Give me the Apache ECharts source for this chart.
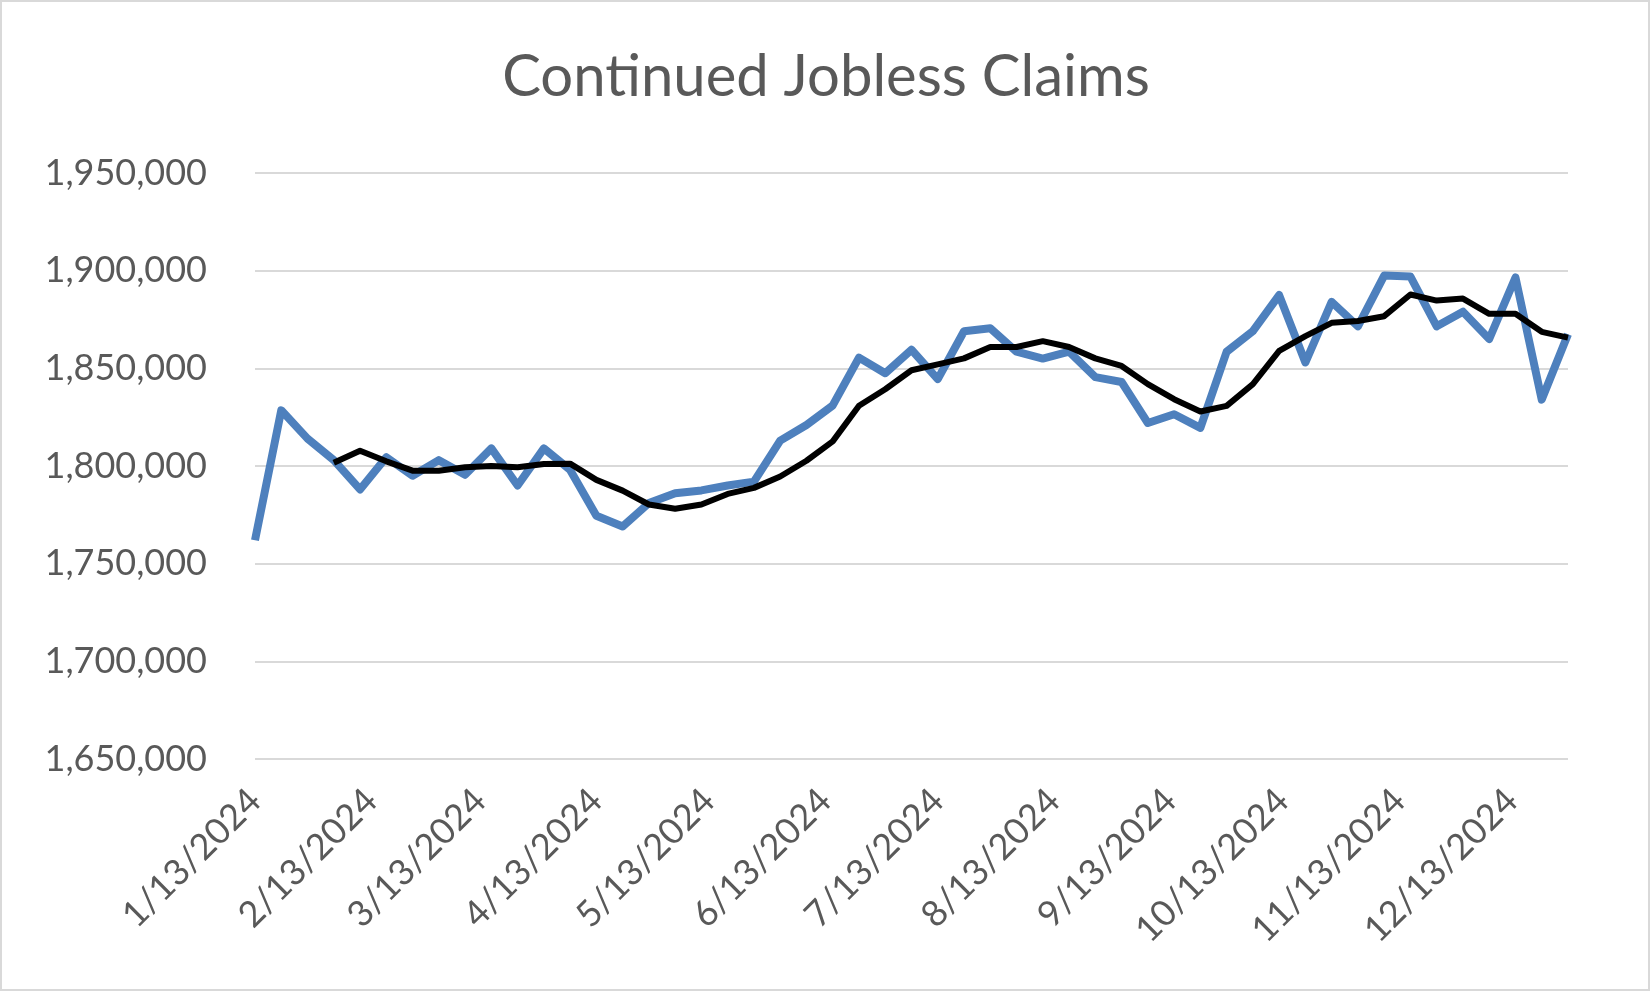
<!DOCTYPE html>
<html>
<head>
<meta charset="utf-8">
<script src="https://cdn.jsdelivr.net/npm/echarts@6/dist/echarts.min.js"></script>
<style>
html,body{margin:0;padding:0;background:#fff;}
#chart{width:1652px;height:993px;}
</style>
</head>
<body>
<div id="chart"></div>
<script>
const weekDates = ["1/13/2024","1/20/2024","1/27/2024","2/3/2024","2/10/2024","2/17/2024","2/24/2024","3/2/2024","3/9/2024","3/16/2024","3/23/2024","3/30/2024","4/6/2024","4/13/2024","4/20/2024","4/27/2024","5/4/2024","5/11/2024","5/18/2024","5/25/2024","6/1/2024","6/8/2024","6/15/2024","6/22/2024","6/29/2024","7/6/2024","7/13/2024","7/20/2024","7/27/2024","8/3/2024","8/10/2024","8/17/2024","8/24/2024","8/31/2024","9/7/2024","9/14/2024","9/21/2024","9/28/2024","10/5/2024","10/12/2024","10/19/2024","10/26/2024","11/2/2024","11/9/2024","11/16/2024","11/23/2024","11/30/2024","12/7/2024","12/14/2024","12/21/2024","12/28/2024"];

const continuedClaims = [1762000,1828500,1814000,1803000,1788000,1804500,1795000,1803000,1795500,1809000,1790000,1809000,1798000,1774500,1769000,1781000,1786000,1787500,1790000,1792000,1813000,1821000,1831000,1855500,1847500,1859500,1844500,1869000,1870500,1858500,1855000,1858500,1845500,1843000,1822000,1826500,1819500,1858500,1869000,1887500,1853000,1884000,1871500,1897500,1897000,1871500,1879000,1865000,1896500,1834000,1867500];

const movingAverage = [null,null,null,1801700,1807800,1802400,1797600,1797600,1799400,1800000,1799400,1801000,1801200,1792900,1787400,1780300,1778100,1780300,1785700,1788800,1794600,1802700,1812600,1830800,1839300,1849000,1852000,1855100,1860900,1860900,1863900,1860900,1855100,1851200,1841900,1834200,1827900,1830800,1841900,1858900,1866500,1873300,1874200,1876700,1887800,1884700,1885700,1877900,1877900,1868700,1865700];

const tickLabels = ["1/13/2024","2/13/2024","3/13/2024","4/13/2024","5/13/2024","6/13/2024","7/13/2024","8/13/2024","9/13/2024","10/13/2024","11/13/2024","12/13/2024"];

const yMin = 1650000, yMax = 1950000, yStep = 50000;

// daily date axis (Excel-style date axis) spanning the weekly data
function parseD(s){const p=s.split('/');return new Date(+p[2],+p[0]-1,+p[1]);}
function fmtD(d){return (d.getMonth()+1)+'/'+d.getDate()+'/'+d.getFullYear();}
const dayCats = [];
{
  const start = parseD(weekDates[0]), end = parseD(weekDates[weekDates.length-1]);
  for (let d = new Date(start); d <= end; d.setDate(d.getDate()+1)) dayCats.push(fmtD(d));
}
const tickSet = new Set(tickLabels);

const blueData = weekDates.map((d,i)=>[d, continuedClaims[i]]);
const blackData = weekDates.map((d,i)=>[d, movingAverage[i]]).filter(p=>p[1]!==null);

const FONT = 'Lato';
const chart = echarts.init(document.getElementById('chart'), null, {renderer:'canvas'});
chart.setOption({
  animation:false,
  backgroundColor:'#ffffff',
  title:{
    text:'Continued Jobless Claims',
    left:'center', top:43,
    textStyle:{fontFamily:FONT, fontSize:58, fontWeight:'normal', color:'#595959'}
  },
  graphic:[{
    type:'rect', silent:true, z:-1,
    shape:{x:1, y:1, width:1648, height:989},
    style:{fill:'none', stroke:'#d9d9d9', lineWidth:2}
  }],
  grid:{left:255, right:84, top:173, bottom:234, containLabel:false},
  xAxis:{
    type:'category',
    data:dayCats,
    boundaryGap:false,
    axisLine:{show:false},
    axisTick:{show:false},
    splitLine:{show:false},
    axisLabel:{
      interval:(idx, val)=>tickSet.has(val),
      rotate:45,
      margin:36,
      fontFamily:FONT, fontSize:36, color:'#595959'
    }
  },
  yAxis:{
    type:'value',
    min:yMin, max:yMax, interval:yStep,
    axisLine:{show:false},
    axisTick:{show:false},
    splitLine:{lineStyle:{color:'#d9d9d9', width:2}},
    axisLabel:{
      margin:48,
      fontFamily:FONT, fontSize:36, color:'#595959',
      formatter:v=>v.toLocaleString('en-US')
    }
  },
  series:[
    {
      name:'Continued Claims', type:'line', data:blueData,
      symbol:'none', z:2,
      lineStyle:{color:'#4E80BD', width:8, join:'round'}
    },
    {
      name:'4-week moving average', type:'line', data:blackData,
      symbol:'none', z:3,
      lineStyle:{color:'#000000', width:6, join:'round'}
    }
  ]
});
</script>
</body>
</html>
